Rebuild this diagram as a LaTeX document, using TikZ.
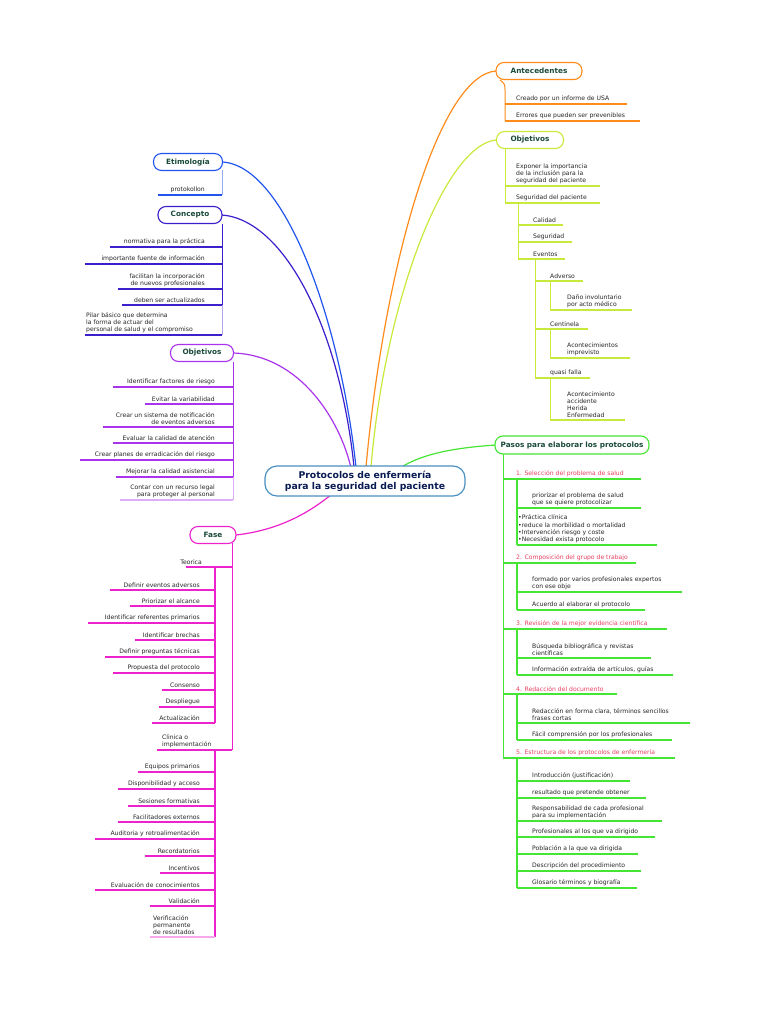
\documentclass[tikz,border=0pt]{standalone}
\usepackage{fontspec}
\setmainfont{DejaVu Sans}
\definecolor{cEt}{HTML}{2255EE}
\definecolor{cCo}{HTML}{3A1FCC}
\definecolor{cOb}{HTML}{AA33EE}
\definecolor{cFa}{HTML}{EE22CC}
\definecolor{cAn}{HTML}{FF8C1A}
\definecolor{cOr}{HTML}{C8EA3A}
\definecolor{cPa}{HTML}{44E633}
\definecolor{cCe}{HTML}{4A90C0}
\definecolor{cTx}{HTML}{1A4A3A}
\definecolor{cRd}{HTML}{E84060}
\tikzset{
 leaf/.style={inner sep=0pt,font=\fontsize{6.1}{7.2}\selectfont,text=black!85},
 ul/.style={line width=1.4pt},
 tr/.style={line width=1pt},
 hdr/.style={draw,rounded corners=8pt,line width=1.1pt,minimum height=17pt,inner sep=0pt,font=\fontsize{7.3}{8.5}\selectfont\bfseries,text=cTx,fill=white},
 br/.style={line width=1.2pt}
}
\newcommand\LL[7]{\node[leaf,align=right,anchor=south east] (#1) at (#3,#4-2) {#7};\draw[#2,ul] (#5,#4) -- (#6,#4);}
\newcommand\RL[7]{\node[leaf,align=left,anchor=south west] (#1) at (#3,#4-2) {#7};\draw[#2,ul] (#5,#4) -- (#6,#4);}
\begin{document}
\begin{tikzpicture}[x=1pt,y=-1pt]
\useasboundingbox (0,0) rectangle (768,1024);
\fill[white] (0,0) rectangle (768,1024);
% curves
\draw[cEt,br] (222,162) .. controls (285,165) and (340,320) .. (356,467);
\draw[cCo,br] (222,215) .. controls (285,220) and (340,330) .. (354,467);
\draw[cOb,br] (233,353) .. controls (300,355) and (340,420) .. (351,468);
\draw[cFa,br] (236,535) .. controls (280,530) and (310,512) .. (332,494);
\draw[cAn,br] (496,71) .. controls (440,75) and (385,260) .. (366,467);
\draw[cOr,br] (496,140) .. controls (445,145) and (385,300) .. (371,467);
\draw[cPa,br] (496,445) .. controls (450,448) and (420,455) .. (400,468);
\node[draw=cCe,line width=1.2pt,rounded corners=12pt,minimum width=200pt,minimum height=30pt,inner sep=0pt,fill=white,align=center,font=\fontsize{9.3}{10.8}\selectfont\bfseries,text=cTx!60!blue!60!black] (center) at (365,481) {Protocolos de enfermería\\para la seguridad del paciente};
% ---- Etimologia
\draw[cEt!50,tr] (222,170) -- (222,195);
\node[hdr,draw=cEt,minimum width=69pt] (etim) at (188,162) {Etimología};
\LL{e1}{cEt}{205}{195}{158}{222}{protokollon}
% ---- Concepto
\draw[cCo,tr] (222,224) -- (222,305);
\draw[cCo!40,tr] (222,305) -- (222,335);
\node[hdr,draw=cCo,minimum width=64pt] (conc) at (190,215) {Concepto};
\LL{k1}{cCo}{205}{247}{110}{222}{normativa para la práctica}
\LL{k2}{cCo}{205}{264}{85}{222}{importante fuente de información}
\LL{k3}{cCo}{205}{289}{118}{222}{facilitan la incorporación\\de nuevos profesionales}
\LL{k4}{cCo}{205}{305}{122}{222}{deben ser actualizados}
\node[leaf,align=left,anchor=south west] (k5) at (86,333) {Pilar básico que determina\\la forma de actuar del\\personal de salud y el compromiso};
\draw[cCo,ul] (85,335) -- (222,335);
% ---- Objetivos left
\draw[cOb,tr] (233,362) -- (233,477);
\draw[cOb!40,tr] (233,477) -- (233,500);
\node[hdr,draw=cOb,minimum width=63pt] (objl) at (202,353) {Objetivos};
\LL{o1}{cOb}{215}{387}{113}{233}{Identificar factores de riesgo}
\LL{o2}{cOb}{215}{404}{145}{233}{Evitar la variabilidad}
\LL{o3}{cOb}{215}{427}{103}{233}{Crear un sistema de notificación\\ de eventos adversos}
\LL{o4}{cOb}{215}{443}{113}{233}{Evaluar la calidad de atención}
\LL{o5}{cOb}{215}{460}{80}{233}{Crear planes de erradicación del riesgo}
\LL{o6}{cOb}{215}{477}{116}{233}{Mejorar la calidad asistencial}
\LL{o7}{cOb!40}{215}{500}{120}{233}{Contar con un recurso legal\\para proteger al personal}
% ---- Fase
\draw[cFa,tr] (232,543) -- (232,750);
\node[hdr,draw=cFa,minimum width=46pt] (fase) at (213,535) {Fase};
\LL{f0}{cFa}{202}{567}{186}{232}{Teorica}
\draw[cFa,line width=1.4pt] (215,567) -- (215,723);
\LL{f1}{cFa}{200}{590}{110}{215}{Definir eventos adversos}
\LL{f2}{cFa}{200}{606}{130}{215}{Priorizar el alcance}
\LL{f3}{cFa}{200}{623}{88}{215}{Identificar referentes primarios}
\LL{f4}{cFa}{200}{640}{135}{215}{Identificar brechas}
\LL{f5}{cFa}{200}{657}{105}{215}{Definir preguntas técnicas}
\LL{f6}{cFa}{200}{673}{113}{215}{Propuesta del protocolo}
\LL{f7}{cFa}{200}{690}{162}{215}{Consenso}
\LL{f8}{cFa}{200}{707}{159}{215}{Despliegue}
\LL{f9}{cFa}{200}{723}{152}{215}{Actualización}
\node[leaf,align=left,anchor=south west] (fc) at (162,748) {Clinica o\\implementación};
\draw[cFa,ul] (157,750) -- (232,750);
\draw[cFa,line width=1.4pt] (215,750) -- (215,937);
\LL{g1}{cFa}{200}{772}{138}{215}{Equipos primarios}
\LL{g2}{cFa}{200}{789}{118}{215}{Disponibilidad y acceso}
\LL{g3}{cFa}{200}{806}{128}{215}{Sesiones formativas}
\LL{g4}{cFa}{200}{822}{118}{215}{Facilitadores externos}
\LL{g5}{cFa}{200}{839}{95}{215}{Auditoria y retroalimentación}
\LL{g6}{cFa}{200}{856}{145}{215}{Recordatorios}
\LL{g7}{cFa}{200}{873}{160}{215}{Incentivos}
\LL{g8}{cFa}{200}{890}{95}{215}{Evaluación de conocimientos}
\LL{g9}{cFa}{200}{906}{150}{215}{Validación}
\node[leaf,align=left,anchor=south west] (g10) at (153,935) {Verificación\\permanente\\de resultados};
\draw[cFa!40,ul] (150,937) -- (215,937);
% ---- Antecedentes
\draw[cAn,tr] (500,80) .. controls (505,84) .. (505,92) -- (505,121);
\node[hdr,draw=cAn,minimum width=86pt] (ante) at (539,71) {Antecedentes};
\RL{a1}{cAn}{516}{104}{505}{627}{Creado por un informe de USA}
\RL{a2}{cAn}{516}{121}{505}{640}{Errores que pueden ser prevenibles}
% ---- Objetivos right
\draw[cOr,tr] (505,148) -- (505,203);
\node[hdr,draw=cOr,minimum width=67pt] (objr) at (530,140) {Objetivos};
\RL{r1}{cOr}{516}{186}{505}{600}{Exponer la importancia\\de la inclusión para la\\seguridad del paciente}
\RL{r2}{cOr}{516}{203}{505}{600}{Seguridad del paciente}
\draw[cOr,tr] (518,203) -- (518,259);
\RL{r3}{cOr}{533}{225}{518}{563}{Calidad}
\RL{r4}{cOr}{533}{242}{518}{572}{Seguridad}
\RL{r5}{cOr}{533}{259}{518}{565}{Eventos}
\draw[cOr,tr] (535,259) -- (535,378);
\RL{r6}{cOr}{550}{281}{535}{583}{Adverso}
\draw[cOr,tr] (550,281) -- (550,310);
\RL{r7}{cOr}{567}{310}{550}{632}{Daño involuntario\\por acto médico}
\RL{r8}{cOr}{550}{329}{535}{588}{Centinela}
\draw[cOr,tr] (550,329) -- (550,358);
\RL{r9}{cOr}{567}{358}{550}{630}{Acontecimientos\\imprevisto}
\RL{r10}{cOr}{550}{378}{535}{590}{quasi falla}
\draw[cOr,tr] (550,378) -- (550,420);
\RL{r11}{cOr}{567}{420}{550}{625}{Acontecimiento\\accidente\\Herida\\Enfermedad}
% ---- Pasos
\draw[cPa,tr] (503,454) -- (503,758);
\node[hdr,draw=cPa,minimum width=154pt,minimum height=18pt] (pasos) at (572,445) {Pasos para elaborar los protocolos};
\tikzset{rd/.style={leaf,text=cRd}}
\newcommand\PH[4]{\node[rd,anchor=south west] (#1) at (516,#2-2) {#4};\draw[cPa,ul] (503,#2) -- (#3,#2);}
\PH{p1}{479}{641}{1. Selección del problema de salud}
\draw[cPa,line width=1.6pt] (517,479) -- (517,545);
\RL{p11}{cPa}{532}{508}{517}{641}{priorizar el problema de salud\\ que se quiere protocolizar}
\RL{p12}{cPa}{518}{545}{517}{657}{•Práctica clínica\\•reduce la morbilidad o mortalidad\\•Intervención riesgo y coste\\•Necesidad exista protocolo}
\PH{p2}{563}{636}{2. Composición del grupo de trabajo}
\draw[cPa,line width=1.6pt] (517,563) -- (517,610);
\RL{p21}{cPa}{532}{592}{517}{682}{formado por varios profesionales expertos\\con ese obje}
\RL{p22}{cPa}{532}{610}{517}{645}{Acuerdo al elaborar el protocolo}
\PH{p3}{629}{667}{3. Revisión de la mejor evidencia científica}
\draw[cPa,line width=1.6pt] (517,629) -- (517,675);
\RL{p31}{cPa}{532}{658}{517}{651}{Búsqueda bibliográfica y revistas\\científicas}
\RL{p32}{cPa}{532}{675}{517}{673}{Información extraída de artículos, guías}
\PH{p4}{694}{617}{4. Redacción del documento}
\draw[cPa,line width=1.6pt] (517,694) -- (517,740);
\RL{p41}{cPa}{532}{723}{517}{690}{Redacción en forma clara, términos sencillos\\frases cortas}
\RL{p42}{cPa}{532}{740}{517}{672}{Fácil comprensión por los profesionales}
\PH{p5}{758}{675}{5. Estructura de los protocolos de enfermería}
\draw[cPa,line width=1.6pt] (517,758) -- (517,888);
\RL{p51}{cPa}{532}{781}{517}{630}{Introducción (justificación)}
\RL{p52}{cPa}{532}{798}{517}{646}{resultado que pretende obtener}
\RL{p53}{cPa}{532}{821}{517}{662}{Responsabilidad de cada profesional\\para su implementación}
\RL{p54}{cPa}{532}{837}{517}{655}{Profesionales al los que va dirigido}
\RL{p55}{cPa}{532}{854}{517}{638}{Población a la que va dirigida}
\RL{p56}{cPa}{532}{871}{517}{641}{Descripción del procedimiento}
\RL{p57}{cPa}{532}{888}{517}{637}{Glosario términos y biografía}
\end{tikzpicture}
\end{document}
